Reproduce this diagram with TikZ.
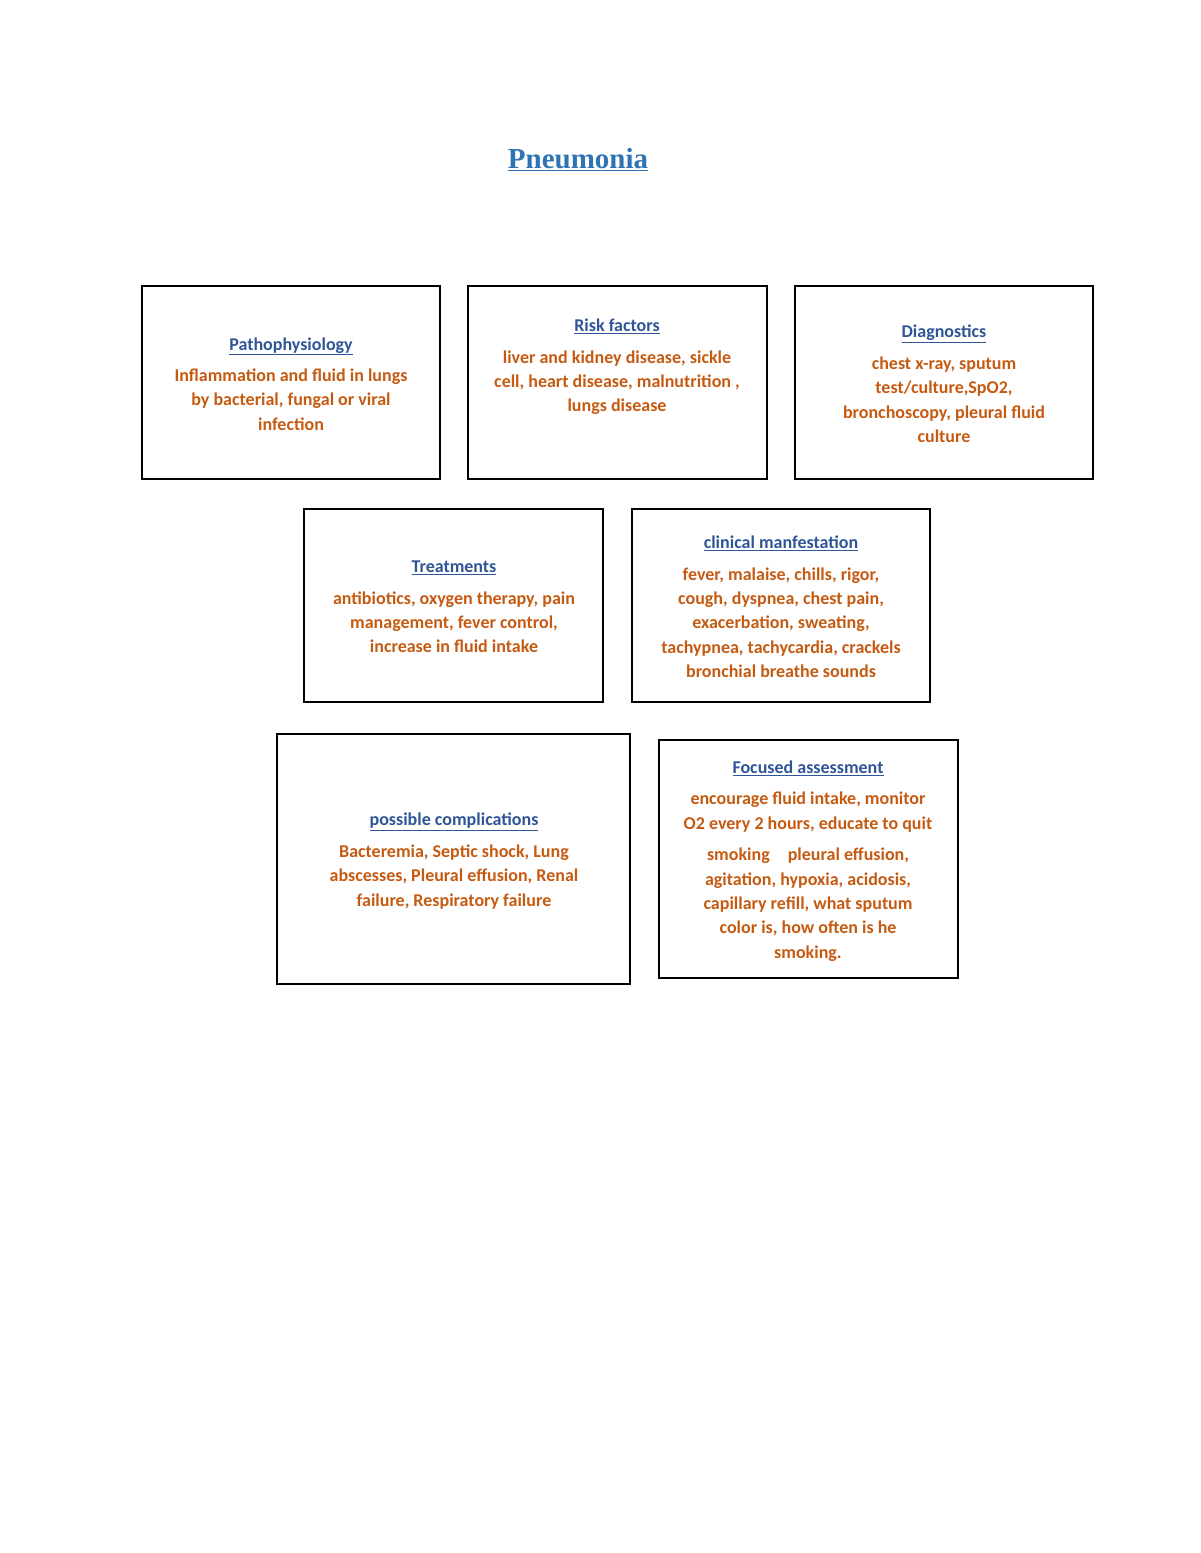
\documentclass[tikz,border=0pt]{standalone}
\usepackage{fontspec}
\setmainfont{Carlito}
\newfontfamily\titlefont{Liberation Serif}
\definecolor{hd}{HTML}{2F5597}
\definecolor{bd}{HTML}{C55A11}
\definecolor{tt}{HTML}{2E74B5}
\begin{document}
\begin{tikzpicture}[x=1pt,y=-1pt,
 boxx/.style={draw=black,line width=2.2pt},
 txt/.style={align=center,font=\fontsize{18}{24.4}\selectfont\bfseries,text=bd,inner sep=0pt}]
\useasboundingbox (0,0) rectangle (1200,1553);
\node[font=\titlefont\fontsize{29}{32}\selectfont\bfseries,text=tt] (title) at (578,160) {\underline{Pneumonia}};
\newcommand{\hh}[1]{\textcolor{hd}{\underline{#1}}\\[7pt]}
\draw[boxx] (142,286) rectangle (440,479);
\draw[boxx] (468,286) rectangle (767,479);
\draw[boxx] (795,286) rectangle (1093,479);
\draw[boxx] (304,509) rectangle (603,702);
\draw[boxx] (632,509) rectangle (930,702);
\draw[boxx] (277,734) rectangle (630,984);
\draw[boxx] (659,740) rectangle (958,978);
\node[txt] (t1) at (291,384) {\hh{Pathophysiology}Inflammation and fluid in lungs\\by bacterial, fungal or viral\\infection};
\node[txt] (t2) at (617,367) {\hh{Risk factors}liver and kidney disease, sickle\\cell, heart disease, malnutrition ,\\lungs disease};
\node[txt] (t3) at (944,384) {\hh{Diagnostics}chest x-ray, sputum\\test/culture,SpO2,\\bronchoscopy, pleural fluid\\culture};
\node[txt] (t4) at (454,607) {\hh{Treatments}antibiotics, oxygen therapy, pain\\management, fever control,\\increase in fluid intake};
\node[txt] (t5) at (781,607) {\hh{clinical manfestation}fever, malaise, chills, rigor,\\cough, dyspnea, chest pain,\\exacerbation, sweating,\\tachypnea, tachycardia, crackels\\bronchial breathe sounds};
\node[txt] (t6) at (454,861) {\hh{possible complications}Bacteremia, Septic shock, Lung\\abscesses, Pleural effusion, Renal\\failure, Respiratory failure};
\node[txt] (t7) at (808,861) {\hh{Focused assessment}encourage fluid intake, monitor\\O2 every 2 hours, educate to quit\\[7pt]smoking\quad pleural effusion,\\agitation, hypoxia, acidosis,\\capillary refill, what sputum\\color is, how often is he\\smoking.};
\end{tikzpicture}
\end{document}
